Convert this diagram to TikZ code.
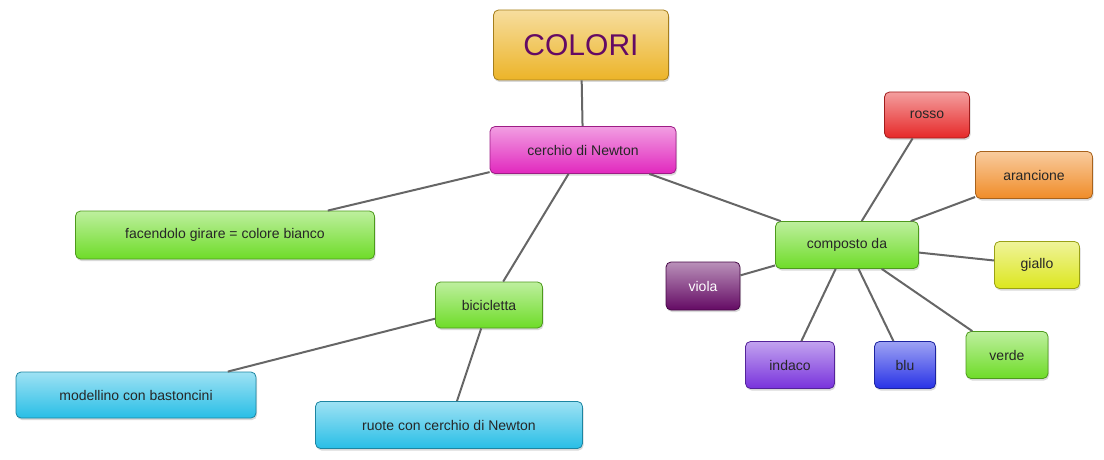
\documentclass[tikz,border=0pt]{standalone}
\usepackage{fontspec}
\setmainfont{Liberation Sans}
\usetikzlibrary{shadows}
\begin{document}
\begin{tikzpicture}[x=1pt,y=-1pt,
 box/.style={draw=#1!70!black,rounded corners=5pt,top color=#1!45!white,bottom color=#1,line width=0.8pt,
   drop shadow={shadow xshift=1pt,shadow yshift=-2pt,opacity=0.3},font=\fontsize{14}{16}\selectfont,text=black!85,inner sep=0pt},
 edge/.style={draw=black!60,line width=2pt}]
\useasboundingbox (0,0) rectangle (1104,460);
\definecolor{cgold}{RGB}{236,180,40}
\definecolor{cmag}{RGB}{225,40,190}
\definecolor{cgreen}{RGB}{110,220,40}
\definecolor{ccyan}{RGB}{40,190,230}
\definecolor{cred}{RGB}{230,40,40}
\definecolor{corange}{RGB}{240,140,40}
\definecolor{cyellow}{RGB}{220,230,30}
\definecolor{cblue}{RGB}{40,50,230}
\definecolor{cindaco}{RGB}{120,50,220}
\definecolor{cviola}{RGB}{100,10,100}
\node[box=cgold,minimum width=175,minimum height=70,text=cviola,font=\fontsize{30}{34}\selectfont] (colori) at (581,45) {COLORI};
\node[box=cmag,minimum width=186,minimum height=47] (newton) at (583,150) {cerchio di Newton};
\node[box=cgreen,minimum width=299,minimum height=48] (fac) at (225,235) {facendolo girare = colore bianco};
\node[box=cgreen,minimum width=107,minimum height=46] (bici) at (489,305) {bicicletta};
\node[box=ccyan,minimum width=240,minimum height=46] (mod) at (136,395) {modellino con bastoncini};
\node[box=ccyan,minimum width=267,minimum height=47] (ruote) at (449,425) {ruote con cerchio di Newton};
\node[box=cgreen,minimum width=143,minimum height=47] (comp) at (847,245) {composto da};
\node[box=cred,minimum width=85,minimum height=46] (rosso) at (927,115) {rosso};
\node[box=corange,minimum width=117,minimum height=47] (aran) at (1034,175) {arancione};
\node[box=cyellow,minimum width=85,minimum height=47] (giallo) at (1037,265) {giallo};
\node[box=cgreen,minimum width=82,minimum height=47] (verde) at (1007,355) {verde};
\node[box=cblue,minimum width=61,minimum height=47] (blu) at (905,365) {blu};
\node[box=cindaco,minimum width=89,minimum height=47] (indaco) at (790,365) {indaco};
\node[box=cviola,minimum width=74,minimum height=48,text=white] (viola) at (703,286) {viola};
\begin{scope}[on background layer/.style={}]
\end{scope}
\pgfsetlayers{main}
\begin{pgfonlayer}{main}\end{pgfonlayer}
\path[edge] (colori) -- (newton);
\path[edge] (newton) -- (fac);
\path[edge] (newton) -- (bici);
\path[edge] (newton) -- (comp);
\path[edge] (bici) -- (mod);
\path[edge] (bici) -- (ruote);
\path[edge] (comp) -- (rosso);
\path[edge] (comp) -- (aran);
\path[edge] (comp) -- (giallo);
\path[edge] (comp) -- (verde);
\path[edge] (comp) -- (blu);
\path[edge] (comp) -- (indaco);
\path[edge] (comp) -- (viola);
\end{tikzpicture}
\end{document}
